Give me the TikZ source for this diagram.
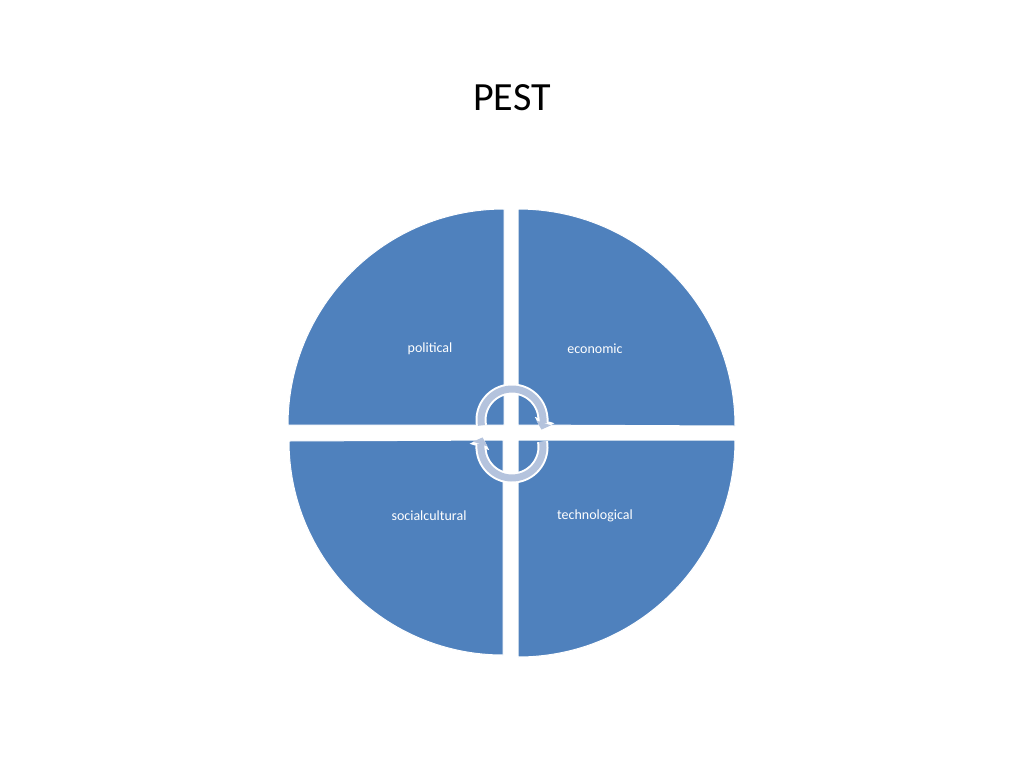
\documentclass[tikz,border=0pt]{standalone}
\usepackage{fontspec}
\setmainfont{Carlito}
\usetikzlibrary{arrows.meta}
\definecolor{qblue}{HTML}{4F81BD}
\definecolor{arr}{HTML}{B4C3DD}
\begin{document}
\begin{tikzpicture}[x=1pt,y=-1pt,
  quad/.style={fill=qblue,draw=white,line width=1pt},
  lbl/.style={text=white,font=\fontsize{14}{16}\selectfont},
  arrout/.style={line width=11pt,white,-{Triangle[width=20pt,length=10pt]}},
  arrin/.style={line width=7pt,arr,-{Triangle[width=15pt,length=7pt]}}]
\useasboundingbox (0,0) rectangle (1024,768);
\node (title) at (512,98) {\fontsize{40}{44}\selectfont PEST};
\path[quad] (504,425) -- ++(-216,0) arc[start angle=180,end angle=270,radius=216] -- cycle;
\path[quad] (518,425) -- ++(0,-216) arc[start angle=270,end angle=360,radius=217] -- cycle;
\path[quad] (503,440) -- ++(0,215) arc[start angle=90,end angle=180,radius=214] -- cycle;
\path[quad] (518,440) -- ++(217,0) arc[start angle=0,end angle=90,radius=217] -- cycle;
\node[lbl] (p) at (430,349) {political};
\node[lbl] (e) at (595,349) {economic};
\node[lbl] (s) at (429,516) {socialcultural};
\node[lbl] (t) at (595,516) {technological};
\draw[arrout] (512,420) ++(170:31) arc[start angle=170,end angle=378,radius=31];
\draw[arrin] (512,420) ++(170:31) arc[start angle=170,end angle=378,radius=31];
\draw[arrout] (512,447) ++(-10:31) arc[start angle=-10,end angle=198,radius=31];
\draw[arrin] (512,447) ++(-10:31) arc[start angle=-10,end angle=198,radius=31];
\end{tikzpicture}
\end{document}
